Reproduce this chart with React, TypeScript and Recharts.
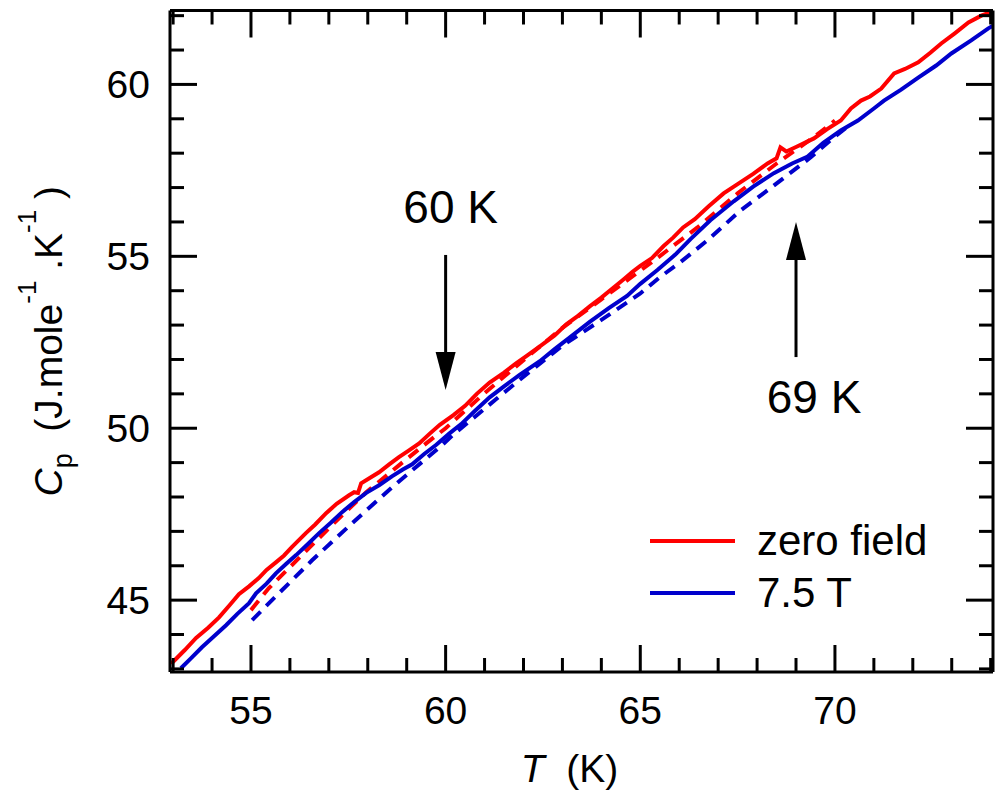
import React from 'react';
import { LineChart, Line, XAxis, YAxis, ReferenceLine, Legend } from 'recharts';

// zero field, measured
const zeroT = [52.95, 53.3, 53.59, 53.9, 54.18, 54.45, 54.69, 54.95, 55.2, 55.4, 55.64, 55.85, 56.05, 56.41, 56.65, 56.93, 57.2, 57.52, 57.65, 57.75, 57.83, 58.05, 58.29, 58.55, 58.8, 59.05, 59.32, 59.6, 59.85, 60.2, 60.5, 60.8, 61.13, 61.5, 61.8, 62.1, 62.42, 62.8, 63.1, 63.4, 63.71, 64.0, 64.3, 64.56, 64.8, 65.0, 65.3, 65.6, 65.85, 66.1, 66.4, 66.75, 67.14, 67.5, 67.9, 68.27, 68.5, 68.6, 68.75, 69.0, 69.46, 69.8, 70.15, 70.41, 70.67, 70.9, 71.19, 71.52, 71.8, 72.14, 72.45, 72.73, 73.07, 73.43, 73.76, 74.0];
const zeroCp = [43.15, 43.55, 43.9, 44.2, 44.5, 44.85, 45.17, 45.4, 45.64, 45.88, 46.1, 46.3, 46.54, 46.95, 47.2, 47.53, 47.8, 48.05, 48.14, 48.12, 48.4, 48.55, 48.72, 48.95, 49.16, 49.35, 49.56, 49.85, 50.1, 50.38, 50.65, 51.0, 51.33, 51.62, 51.88, 52.12, 52.38, 52.7, 53.02, 53.27, 53.55, 53.8, 54.08, 54.32, 54.55, 54.72, 54.95, 55.3, 55.55, 55.84, 56.08, 56.45, 56.83, 57.1, 57.4, 57.7, 57.85, 58.17, 58.05, 58.18, 58.43, 58.7, 58.95, 59.3, 59.53, 59.65, 59.88, 60.32, 60.45, 60.64, 60.92, 61.19, 61.48, 61.8, 62.0, 62.1];

// 7.5 T, measured
const fieldT = [53.2, 53.45, 53.74, 54.05, 54.36, 54.65, 54.95, 55.13, 55.4, 55.64, 55.9, 56.16, 56.45, 56.75, 57.05, 57.34, 57.65, 57.96, 58.3, 58.62, 58.9, 59.14, 59.45, 59.76, 60.1, 60.4, 60.75, 61.13, 61.5, 61.9, 62.42, 62.8, 63.2, 63.71, 64.2, 64.66, 65.0, 65.44, 65.9, 66.29, 66.8, 67.4, 67.9, 68.43, 68.9, 69.3, 69.7, 70.15, 70.59, 71.0, 71.26, 71.7, 72.14, 72.6, 72.99, 73.5, 73.94, 74.05];
const fieldCp = [43.02, 43.3, 43.63, 43.95, 44.27, 44.6, 44.91, 45.2, 45.48, 45.78, 46.05, 46.31, 46.62, 46.95, 47.25, 47.56, 47.85, 48.12, 48.35, 48.6, 48.8, 48.95, 49.25, 49.52, 49.85, 50.12, 50.5, 50.9, 51.22, 51.55, 51.95, 52.3, 52.65, 53.1, 53.5, 53.85, 54.2, 54.6, 55.05, 55.5, 56.05, 56.6, 57.03, 57.42, 57.7, 57.9, 58.3, 58.66, 58.95, 59.3, 59.53, 59.85, 60.2, 60.55, 60.9, 61.28, 61.63, 61.7];

// dashed reference curves
const zeroFitT = [55.0, 55.46, 56.23, 57.08, 57.96, 58.8, 59.5, 60.0, 61.0, 62.0, 63.0, 64.0, 64.48, 65.26, 66.47, 67.5, 68.5, 69.5, 70.0];
const zeroFitCp = [44.71, 45.35, 46.22, 47.18, 48.14, 48.92, 49.56, 50.0, 51.02, 51.98, 52.92, 53.75, 54.15, 54.8, 55.84, 56.83, 57.7, 58.5, 58.95];
const fieldFitT = [55.03, 55.54, 56.57, 57.6, 58.62, 59.9, 60.18, 60.8, 61.3, 62.0, 63.0, 64.0, 65.0, 65.5, 66.03, 66.73, 67.58, 68.27, 68.87, 69.38, 69.97, 70.3];
const fieldFitCp = [44.42, 45.0, 46.16, 47.24, 48.28, 49.5, 49.8, 50.38, 50.85, 51.5, 52.4, 53.15, 53.92, 54.39, 54.83, 55.47, 56.34, 56.92, 57.44, 57.88, 58.46, 58.75];

const seriesNames = ['zero field', '7.5 T'];
const xTicks = [53, 54, 55, 56, 57, 58, 59, 60, 61, 62, 63, 64, 65, 66, 67, 68, 69, 70, 71, 72, 73, 74];
const yTicks = [43, 44, 45, 46, 47, 48, 49, 50, 51, 52, 53, 54, 55, 56, 57, 58, 59, 60, 61, 62];
const arrows = [
  { t: 60, from: 55.04, to: 51.11, label: '60 K' },
  { t: 69, from: 52.07, to: 56.0, label: '69 K' },
];

const FONT = '"Liberation Sans", Arial, Helvetica, sans-serif';
const RED = '#ff0000';
const BLUE = '#0000cc';

const toPoints = (ts: number[], cps: number[]) => ts.map((t, i) => ({ t, cp: cps[i] }));
const zeroData = toPoints(zeroT, zeroCp);
const fieldData = toPoints(fieldT, fieldCp);
const zeroFit = toPoints(zeroFitT, zeroFitCp);
const fieldFit = toPoints(fieldFitT, fieldFitCp);

const isMajor = (v: number) => v % 5 === 0;

function makeTick(side: 'bottom' | 'top' | 'left' | 'right') {
  return (props: any) => {
    const { x, y, payload } = props;
    const v = payload.value;
    const len = isMajor(v) ? 27 : 14;
    let x2 = x;
    let y2 = y;
    if (side === 'bottom') y2 = y - len;
    if (side === 'top') y2 = y + len;
    if (side === 'left') x2 = x + len;
    if (side === 'right') x2 = x - len;
    return (
      <g>
        <line x1={x} y1={y} x2={x2} y2={y2} stroke="#000" strokeWidth={3} />
        {side === 'bottom' && isMajor(v) && (
          <text x={x} y={y + 52} textAnchor="middle" fontSize={39} fontFamily={FONT} fill="#000">{v}</text>
        )}
        {side === 'left' && isMajor(v) && (
          <text x={x - 20} y={y} dy="0.36em" textAnchor="end" fontSize={39} fontFamily={FONT} fill="#000">{v}</text>
        )}
      </g>
    );
  };
}

const xLabel = (props: any) => {
  const vb = props.viewBox;
  return (
    <text x={vb.x + vb.width / 2 - 12} y={vb.y + 110} textAnchor="middle" fontSize={39} fontFamily={FONT} fill="#000" style={{ whiteSpace: 'pre' }}>
      <tspan fontStyle="italic">T</tspan>
      <tspan>{'  (K)'}</tspan>
    </text>
  );
};

const yLabel = (props: any) => {
  const vb = props.viewBox;
  const cx = 54;
  const cy = vb.y + vb.height / 2;
  return (
    <text x={cx} y={cy} transform={`rotate(-90, ${cx}, ${cy})`} textAnchor="middle" fontSize={39} fontFamily={FONT} fill="#000" style={{ whiteSpace: 'pre' }}>
      <tspan fontStyle="italic">C</tspan>
      <tspan fontSize={27} dy={10}>p</tspan>
      <tspan dy={-10}>{'  (J.mole'}</tspan>
      <tspan fontSize={26} dy={-26}>-1</tspan>
      <tspan dy={26}>{' .K'}</tspan>
      <tspan fontSize={26} dy={-26}>-1</tspan>
      <tspan dy={26}>{' )'}</tspan>
    </text>
  );
};

function makeArrow(label: string) {
  return (props: any) => {
    const { x1, y1, x2, y2 } = props;
    const d = y2 > y1 ? 1 : -1;
    const head = 38;
    const half = 10;
    const baseY = y2 - d * head;
    const textY = d > 0 ? y1 - 32 : y1 + 56;
    const textX = d > 0 ? x1 + 5 : x1 + 18;
    return (
      <g>
        <line x1={x1} y1={y1} x2={x2} y2={baseY} stroke="#000" strokeWidth={3} />
        <polygon points={`${x2},${y2} ${x2 - half},${baseY} ${x2 + half},${baseY}`} fill="#000" />
        <text x={textX} y={textY} textAnchor="middle" fontSize={46} fontFamily={FONT} fill="#000">{label}</text>
      </g>
    );
  };
}

const renderLegend = (props: any) => {
  const items = (props.payload || [])
    .filter((p: any) => p.type !== 'none' && seriesNames.includes(p.value))
    .sort((a: any, b: any) => seriesNames.indexOf(a.value) - seriesNames.indexOf(b.value));
  return (
    <svg width={320} height={110}>
      {items.map((p: any, i: number) => (
        <g key={p.value}>
          <line x1={2} x2={87} y1={28 + i * 52} y2={28 + i * 52} stroke={p.color} strokeWidth={4} />
          <text x={109} y={42 + i * 52} fontSize={42} fontFamily={FONT} fill="#000">{p.value}</text>
        </g>
      ))}
    </svg>
  );
};

const X_DOMAIN: [number, number] = [52.92, 74.06];
const Y_DOMAIN: [number, number] = [42.91, 62.15];

export default function App() {
  return (
    <div style={{ width: 990, height: 790, background: '#fff' }}>
      <LineChart width={990} height={790} margin={{ top: 1.5, right: 4, bottom: 0, left: 0 }}>
        <XAxis
          xAxisId={0}
          dataKey="t"
          type="number"
          domain={X_DOMAIN}
          allowDataOverflow
          ticks={xTicks}
          interval={0}
          tickSize={0}
          tickMargin={0}
          tickLine={false}
          tick={makeTick('bottom')}
          axisLine={{ stroke: '#000', strokeWidth: 3 }}
          height={126}
          label={xLabel}
        />
        <XAxis
          xAxisId="top"
          orientation="top"
          dataKey="t"
          type="number"
          domain={X_DOMAIN}
          allowDataOverflow
          ticks={xTicks}
          interval={0}
          tickSize={0}
          tickMargin={0}
          tickLine={false}
          tick={makeTick('top')}
          axisLine={{ stroke: '#000', strokeWidth: 3 }}
          height={1}
        />
        <YAxis
          yAxisId={0}
          type="number"
          domain={Y_DOMAIN}
          allowDataOverflow
          ticks={yTicks}
          interval={0}
          tickSize={0}
          tickMargin={0}
          tickLine={false}
          tick={makeTick('left')}
          axisLine={{ stroke: '#000', strokeWidth: 3 }}
          width={162}
          label={yLabel}
        />
        <YAxis
          yAxisId="right"
          orientation="right"
          type="number"
          domain={Y_DOMAIN}
          allowDataOverflow
          ticks={yTicks}
          interval={0}
          tickSize={0}
          tickMargin={0}
          tickLine={false}
          tick={makeTick('right')}
          axisLine={{ stroke: '#000', strokeWidth: 3 }}
          width={1}
        />
        <Line data={fieldFit} dataKey="cp" stroke={BLUE} strokeWidth={4} strokeDasharray="12 8" dot={false} legendType="none" isAnimationActive={false} />
        <Line data={zeroFit} dataKey="cp" stroke={RED} strokeWidth={4} strokeDasharray="12 8" dot={false} legendType="none" isAnimationActive={false} />
        <Line data={fieldData} dataKey="cp" name={seriesNames[1]} stroke={BLUE} strokeWidth={4} dot={false} isAnimationActive={false} />
        <Line data={zeroData} dataKey="cp" name={seriesNames[0]} stroke={RED} strokeWidth={4} dot={false} isAnimationActive={false} />
        {arrows.map((a) => (
          <ReferenceLine
            key={a.label}
            segment={[{ x: a.t, y: a.from }, { x: a.t, y: a.to }]}
            shape={makeArrow(a.label)}
          />
        ))}
        <Legend
          layout="vertical"
          verticalAlign="middle"
          align="center"
          content={renderLegend}
          wrapperStyle={{ left: 640, top: 505, width: 320, height: 110 }}
        />
      </LineChart>
    </div>
  );
}
